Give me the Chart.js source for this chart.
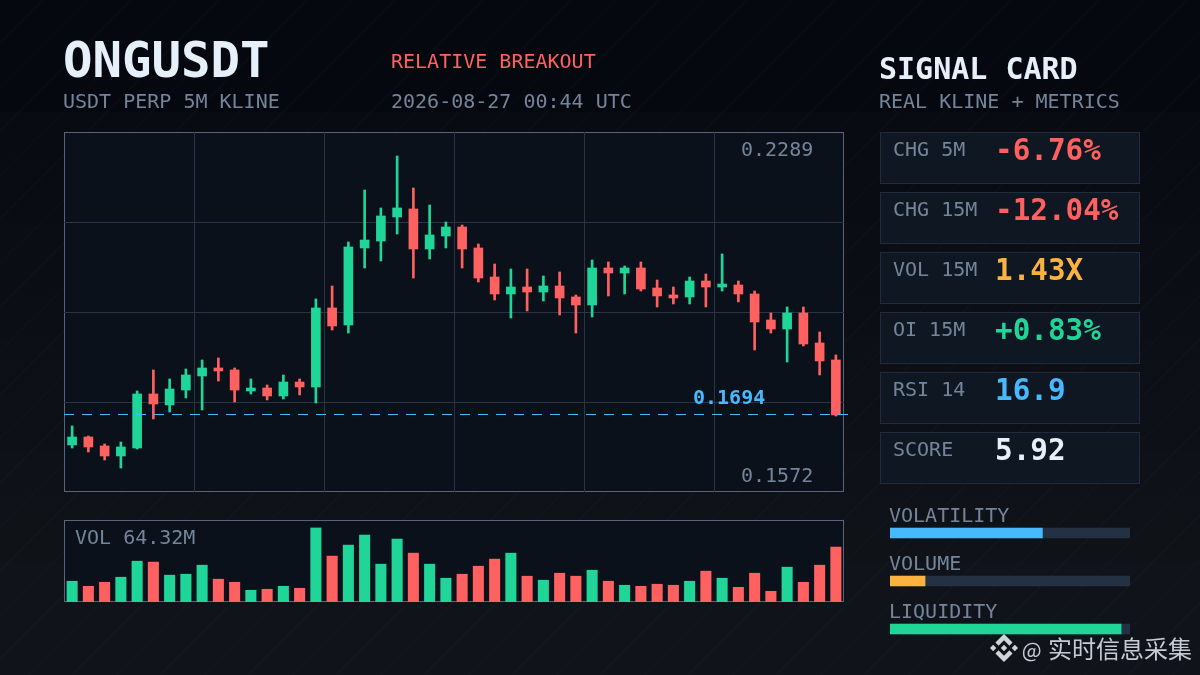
<!DOCTYPE html>
<html><head><meta charset="utf-8">
<script src="https://cdn.jsdelivr.net/npm/chart.js@4"></script>
<style>
html,body{margin:0;padding:0;width:1200px;height:675px;overflow:hidden;background:#05080e}
#bg{position:absolute;left:0;top:0;width:1200px;height:675px;
background:repeating-linear-gradient(135deg,transparent 0,transparent 30.3px,rgba(160,190,230,.035) 30.3px,rgba(160,190,230,.035) 31.11px),
linear-gradient(180deg,#05080e 0,#05080e 112px,#080b11 112px,#090c12 225px,#0a0d13 225px,#0b0e14 337px,#0c0f15 337px,#0d1016 450px,#0e1117 450px,#0f1318 562px,#10141a 562px,#10141a 675px)}
.t{position:absolute;font-family:"DejaVu Sans Mono",monospace;line-height:1;white-space:pre}
.panel{position:absolute;box-sizing:border-box;border:1px solid #56647c;background:#0b111a}
.card{position:absolute;box-sizing:border-box;left:880px;width:260px;height:52px;background:#0f1722;border:1px solid #202c3e}
canvas{position:absolute;display:block}
#wm{position:absolute;right:8px;top:634px;font-family:"Noto Sans CJK SC",sans-serif;font-size:24px;line-height:28px;color:#c6ccd3;white-space:pre}
#wm span{font-size:21px;margin-right:1px}
#ic{position:absolute;left:990px;top:634px;width:28px;height:28px}
</style></head>
<body>
<div id="bg"></div>
<div class="panel" style="left:64px;top:132px;width:780px;height:360px"></div>
<div class="panel" style="left:64px;top:520px;width:780px;height:82px"></div>
<canvas id="price" width="1200" height="500" style="left:0;top:0;width:1200px;height:500px"></canvas>
<canvas id="vol" width="780" height="82" style="left:64px;top:520px;width:780px;height:82px"></canvas>
<canvas id="meters" width="240" height="144" style="left:890px;top:509px;width:240px;height:144px"></canvas>
<svg id="ic" viewBox="0 0 24 24"><path fill="#d2d5d8" d="M16.624 13.9202l2.7175 2.7154-7.353 7.353-7.353-7.352 2.7175-2.7164 4.6355 4.6595 4.6356-4.6595zm4.6366-4.6366L24 12l-2.7154 2.7164L18.5682 12l2.6924-2.7164zm-9.272.001l2.7163 2.6914-2.7164 2.7174v-.001L9.2721 12l2.7164-2.7154zm-9.2722-.001L5.4088 12l-2.6914 2.6924L0 12l2.7164-2.7164zM11.9885.0115l7.353 7.329-2.7174 2.7154-4.6356-4.6356-4.6355 4.6595-2.7174-2.7154 7.353-7.353z"/></svg>
<div id="wm"><span>@</span> 实时信息采集</div>
<script>
const opens =[.16249,.16432,.16226,.15996,.16180,.17421,.17168,.17512,.17834,.18018,.17972,.17489,.17558,.17375,.17696,.17581,.19397,.19006,.20776,.20936,.21488,.21672,.20753,.21051,.21258,.20776,.20109,.19719,.19879,.19764,.19902,.19650,.19466,.20316,.20201,.20316,.19856,.19696,.19650,.20017,.19879,.19925,.19719,.19121,.18914,.19282,.18593,.18202];
const highs =[.16685,.16455,.16272,.16317,.17489,.17972,.17765,.17995,.18202,.18248,.18018,.17765,.17627,.17857,.17765,.19604,.19902,.20913,.22108,.21695,.22890,.22154,.21764,.21373,.21304,.20868,.20408,.20293,.20293,.20132,.20224,.19696,.20500,.20454,.20362,.20454,.20040,.19879,.20109,.20178,.20638,.20017,.19787,.19282,.19420,.19420,.18845,.18317];
const lows  =[.16180,.16088,.15904,.15720,.16157,.16846,.17007,.17329,.17053,.17719,.17237,.17421,.17283,.17306,.17398,.17214,.18891,.18822,.20316,.20477,.21097,.20086,.20523,.20776,.20316,.19994,.19581,.19167,.19328,.19558,.19236,.18822,.19190,.19673,.19719,.19787,.19420,.19489,.19489,.19420,.19787,.19535,.18432,.18822,.18156,.18524,.17857,.16915];
const closes=[.16432,.16203,.15996,.16203,.17421,.17191,.17535,.17857,.18018,.17949,.17512,.17558,.17375,.17696,.17581,.19397,.18983,.20799,.20959,.21511,.21695,.20753,.21074,.21258,.20753,.20086,.19719,.19879,.19764,.19902,.19627,.19466,.20316,.20201,.20316,.19833,.19673,.19627,.20017,.19879,.19948,.19719,.19075,.18914,.19282,.18570,.18179,.16940];
const volumes=[24.3,18.4,23.1,29.0,47.8,46.7,31.4,32.5,43.1,26.7,23.1,13.7,14.9,18.4,16.1,86.7,53.7,66.6,78.4,44.3,73.7,57.2,44.3,27.8,32.5,41.9,50.2,57.2,30.2,25.5,33.7,30.2,37.2,24.3,19.6,18.4,20.8,19.6,24.3,36.1,27.8,17.2,33.7,12.5,40.8,23.1,43.1,64.32];
const lastPrice=0.1694, highLabel="0.2289", lowLabel="0.1572", volLabel="VOL 64.32M";
const meterNames=["VOLATILITY","VOLUME","LIQUIDITY"];
const meterValues=[63.5,14.6,96.3];
const cardLabels=["CHG 5M","CHG 15M","VOL 15M","OI 15M","RSI 14","SCORE"];
const cardValues=["-6.76%","-12.04%","1.43X","+0.83%","16.9","5.92"];
const UP="#1fd698",DOWN="#ff6060",BLUE="#46b9ff",ORANGE="#fbb23f",WHITE="#e6f0fb",MUTED="#74859b",GRID="#2a3446";
const cardColors=[DOWN,DOWN,ORANGE,UP,BLUE,WHITE];
const meterColors=[BLUE,ORANGE,UP];
const cats=opens.map((_,i)=>String(i+1));
const barColors=opens.map((o,i)=>closes[i]>=o?UP:DOWN);

function text(s,x,base,size,color,bold){
  const d=document.createElement('div');d.className='t';d.textContent=s;
  d.style.cssText=`left:${x}px;top:${base-0.846*size}px;font-size:${size}px;color:${color};font-weight:${bold?700:400}`;
  document.body.appendChild(d);
}
text("ONGUSDT",63,77,49,WHITE,true);
text("USDT PERP 5M KLINE",63,108,20,MUTED);
text("RELATIVE BREAKOUT",391,68,20,DOWN);
text("2026-08-27 00:44 UTC",391,108,20,MUTED);
text("SIGNAL CARD",879,79,30,WHITE,true);
text("REAL KLINE + METRICS",879,108,20,MUTED);
text(highLabel,741,156,20,MUTED);
text(lowLabel,741,482,20,MUTED);
text(lastPrice.toFixed(4),693,404,20,BLUE,true);
text(volLabel,75,544,20,MUTED);
cardLabels.forEach((l,i)=>{
  const top=132+60*i;
  const c=document.createElement('div');c.className='card';c.style.top=top+'px';document.body.appendChild(c);
  text(l,893,top+24,20,MUTED);
  text(cardValues[i],995,top+29,29.3,cardColors[i],true);
});
meterNames.forEach((n,i)=>text(n,889,522+48*i,20,MUTED));

const base={responsive:false,animation:false,devicePixelRatio:1,events:[],plugins:{legend:{display:false},tooltip:{enabled:false}}};
const hidden={grid:{display:false,drawTicks:false},ticks:{display:false},border:{display:false}};

const lastLine={id:'lastLine',afterDatasetsDraw(c){
  const y=c.scales.y.getPixelForValue(lastPrice),g=c.ctx;
  g.save();g.strokeStyle=BLUE;g.lineWidth=1;g.setLineDash([10,8]);
  g.beginPath();g.moveTo(64,Math.round(y)-.5);g.lineTo(848,Math.round(y)-.5);g.stroke();g.restore();
}};
const inner=v=>(c=>(c.index===0||c.index===v)?'rgba(0,0,0,0)':GRID);
new Chart(document.getElementById('price'),{type:'bar',
 data:{labels:cats,datasets:[
  {data:opens.map((o,i)=>[o,closes[i]]),backgroundColor:barColors,barThickness:9,grouped:false,borderWidth:0,borderSkipped:false},
  {data:lows.map((l,i)=>[l,highs[i]]),backgroundColor:barColors,barThickness:2,grouped:false,borderWidth:0,borderSkipped:false}
 ]},
 options:{...base,layout:{padding:{left:64,right:356,top:132,bottom:8}},
  scales:{
   x:{...hidden},
   xg:{axis:'x',type:'linear',min:0,max:6,offset:false,afterBuildTicks(s){s.ticks=[0,1,2,3,4,5,6].map(v=>({value:v+.001}))},
       grid:{offset:false,color:inner(6),lineWidth:1,drawTicks:false},ticks:{display:false,autoSkip:false},border:{display:false}},
   y:{min:.15168,max:.23441,afterBuildTicks(s){s.ticks=[0,.25,.5,.75,1].map(f=>({value:.15168+(.23441-.15168)*(f-.0002)}))},
      grid:{color:inner(4),lineWidth:1,drawTicks:false},ticks:{display:false,autoSkip:false},border:{display:false}}
  }},
 plugins:[lastLine]});

new Chart(document.getElementById('vol'),{type:'bar',
 data:{labels:cats,datasets:[{data:volumes,backgroundColor:barColors,barThickness:10.4,borderWidth:0}]},
 options:{...base,scales:{x:{...hidden},y:{...hidden,min:0,max:96}}}});

new Chart(document.getElementById('meters'),{type:'bar',
 data:{labels:meterNames,datasets:[
  {data:meterValues,backgroundColor:meterColors,barThickness:10,grouped:false,borderWidth:0},
  {data:meterValues.map(()=>100),backgroundColor:"#243044",barThickness:10,grouped:false,borderWidth:0}
 ]},
 options:{...base,indexAxis:'y',scales:{x:{...hidden,min:0,max:100},y:{...hidden}}}});
</script>
</body></html>
